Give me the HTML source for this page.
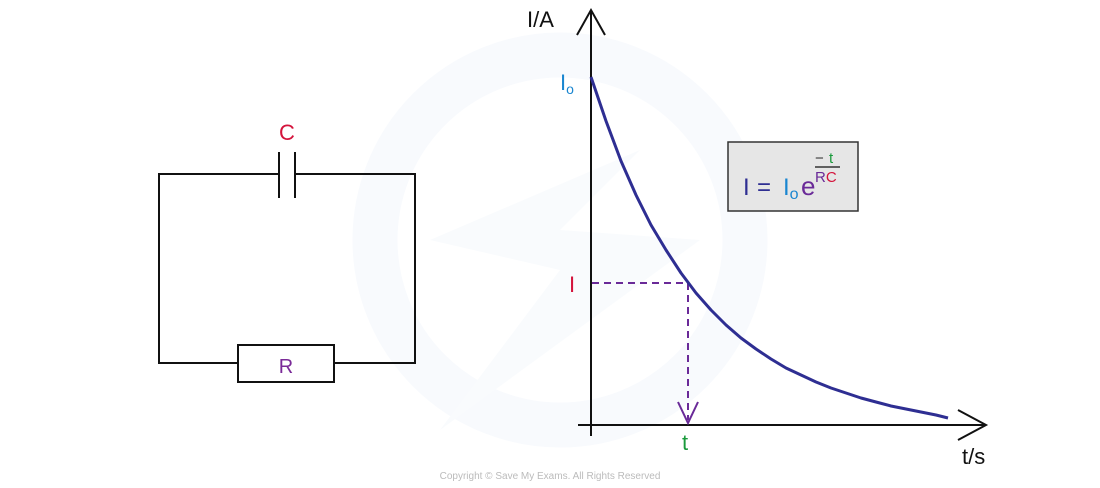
<!DOCTYPE html>
<html><head><meta charset="utf-8"><style>
html,body{margin:0;padding:0;background:#fff;}
svg{display:block;}
text{font-family:"Liberation Sans",sans-serif;}
</style></head><body>
<svg width="1100" height="488" viewBox="0 0 1100 488" xmlns="http://www.w3.org/2000/svg">
<circle cx="560" cy="240" r="185" fill="none" stroke="#f8fafd" stroke-width="45"/>
<polygon points="430,240 640,150 560,230 700,240 440,430 560,270" fill="#f9fbfd"/>
<g stroke="#111" stroke-width="2" fill="none">
<polyline points="279,174 159,174 159,363 238,363"/>
<polyline points="295,174 415,174 415,363 334,363"/>
<line x1="279" y1="152" x2="279" y2="198"/>
<line x1="295" y1="152" x2="295" y2="198"/>
<rect x="238" y="345" width="96" height="37" fill="#fff"/>
</g>
<text x="287" y="140" font-size="22" fill="#d4143c" text-anchor="middle">C</text>
<text x="286" y="373" font-size="20" fill="#7a2a98" text-anchor="middle">R</text>
<g stroke="#111" stroke-width="2" fill="none">
<line x1="591" y1="10" x2="591" y2="436"/>
<polyline points="577,35 591,10 605,35"/>
<line x1="578" y1="425" x2="986" y2="425"/>
<polyline points="958,410 986,425 958,440"/>
</g>
<text x="527" y="27" font-size="22" fill="#111">I/A</text>
<text x="962" y="464" font-size="22" fill="#111">t/s</text>
<text x="560" y="90" font-size="22" fill="#1a86d0">I<tspan font-size="14" dy="4">o</tspan></text>
<text x="569" y="292" font-size="22" fill="#d4143c">I</text>
<text x="682" y="450" font-size="22" fill="#1a9a3c">t</text>
<g stroke="#6a2a98" stroke-width="2" fill="none" stroke-dasharray="7,5">
<line x1="592" y1="283" x2="688" y2="283"/>
<line x1="688" y1="283" x2="688" y2="420"/>
</g>
<polyline points="678,402 688,423 698,402" stroke="#6a2a98" stroke-width="2" fill="none"/>
<polyline fill="none" stroke="#2e2e92" stroke-width="3" stroke-linejoin="round" points="591,77 606,121 621,161 636,195 651,225 666,250 681,273 696,293 711,310 726,325 741,338 756,349 771,359 786,368 801,375 816,382 831,388 846,393 861,398 876,402 891,406 906,409 921,412 936,415 948,418"/>
<rect x="728" y="142" width="130" height="69" fill="#e6e6e6" stroke="#333" stroke-width="1.5"/>
<text x="743" y="195" font-size="24" fill="#2e2e92">I</text>
<text x="757" y="195" font-size="24" fill="#2e2e92">=</text>
<text x="783" y="195" font-size="24" fill="#1a86d0">I<tspan font-size="16" dy="4">o</tspan></text>
<text x="801" y="195" font-size="26" fill="#6a2a98">e</text>
<line x1="815" y1="167" x2="840" y2="167" stroke="#333" stroke-width="1.5"/>
<text x="815" y="163" font-size="15" fill="#333">−</text>
<text x="829" y="163" font-size="15" fill="#1a9a3c">t</text>
<text x="815" y="182" font-size="15" fill="#6a2a98">R<tspan fill="#d4143c">C</tspan></text>
<text x="550" y="479" font-size="10" fill="#bbb" text-anchor="middle">Copyright © Save My Exams. All Rights Reserved</text>
</svg>
</body></html>
